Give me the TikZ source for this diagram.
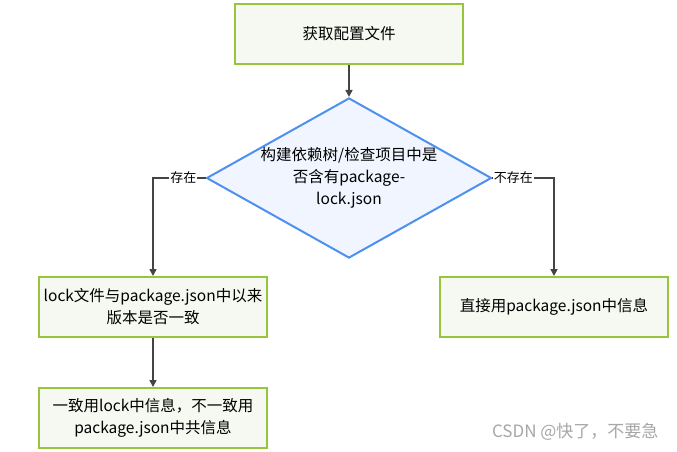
\documentclass[tikz,border=0pt]{standalone}
\usepackage{fontspec}
\setmainfont{Noto Sans CJK SC}
\usetikzlibrary{shapes.geometric,arrows.meta}
\begin{document}
\begin{tikzpicture}[x=1pt,y=-1pt,
  box/.style={draw={rgb,255:red,153;green,197;blue,60},line width=2pt,fill={rgb,255:red,246;green,249;blue,241},minimum width=228pt,minimum height=60pt,align=center,font=\fontsize{15.5}{22}\selectfont},
  dia/.style={diamond,draw={rgb,255:red,77;green,144;blue,240},line width=2pt,fill={rgb,255:red,241;green,245;blue,255},minimum width=264pt,minimum height=148pt,aspect=1.78,inner sep=0pt,align=center,font=\fontsize{15.5}{22}\selectfont},
  arr/.style={draw={rgb,255:red,68;green,68;blue,68},line width=1.6pt,-{Triangle[length=7pt,width=7pt]}},
  lbl/.style={font=\fontsize{13}{13}\selectfont,fill=white,inner sep=1pt}]
\useasboundingbox (0,0) rectangle (677,451);
\node[box] (a) at (349,34) {获取配置文件};
\node[dia] (d) at (349,178) {构建依赖树/检查项目中是\\否含有package-\\lock.json};
\node[box] (l) at (153,307) {lock文件与package.json中以来\\版本是否一致};
\node[box] (r) at (554,307) {直接用package.json中信息};
\node[box] (b) at (153,418) {一致用lock中信息，不一致用\\package.json中共信息};
\draw[arr] (a) -- (d);
\draw[arr] (d.west) -| node[lbl,pos=0.21] {存在} (l.north);
\draw[arr] (d.east) -| node[lbl,pos=0.17] {不存在} (r.north);
\draw[arr] (l) -- (b);
\node[font=\fontsize{17}{18}\selectfont,text=gray!70,anchor=east] (w) at (662,432) {CSDN @快了，不要急};
\end{tikzpicture}
\end{document}
